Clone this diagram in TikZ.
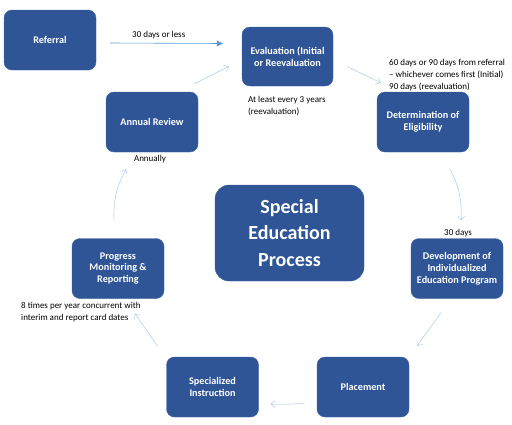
\documentclass[tikz,border=0pt]{standalone}
\usepackage{fontspec}
\setmainfont{Carlito}
\usepackage{tikz}
\usetikzlibrary{arrows.meta}
\definecolor{boxblue}{RGB}{47,85,151}
\definecolor{boxedge}{RGB}{62,98,160}
\definecolor{linkblue}{RGB}{91,155,213}
\definecolor{linkpale}{RGB}{158,194,218}

\begin{document}
\begin{tikzpicture}[x=1pt,y=-1pt,
    stepbox/.style={fill=boxblue,draw=boxedge,rounded corners=8pt,minimum width=92pt,
      minimum height=60pt,text=white,align=center,inner sep=2pt,
      font=\fontsize{10.2}{11.8}\selectfont\bfseries},
    note/.style={align=left,inner sep=0pt,font=\fontsize{9}{12}\selectfont},
    link/.style={linkpale,thin,-{Straight Barb[length=4pt,width=7pt]}}]
          \useasboundingbox (0,0) rectangle (512,424);
          \node[stepbox] (ref) at (50,40) {Referral};
          \node[stepbox,minimum width=91pt,minimum height=59pt] (eval) at (287.5,56.5)
            {Evaluation (Initial\\or Reevaluation};
          \node[stepbox] (det) at (423,122) {Determination of\\Eligibility};
          \node[stepbox] (ann) at (152,122) {Annual Review};
          \node[stepbox] (prog) at (118,268.5) {Progress\\Monitoring \&\\Reporting};
          \node[stepbox,minimum width=149pt,minimum height=96pt,rounded corners=14pt,
            font=\fontsize{20}{26.5}\selectfont\bfseries] (sep) at (289.5,233)
            {Special\\Education\\Process};
          \node[stepbox] (iep) at (457,268.5) {Development of\\Individualized\\Education Program};
          \node[stepbox] (place) at (363,387) {Placement};
          \node[stepbox] (instr) at (212.5,387) {Specialized\\Instruction};
          \node[note,anchor=base west] (t1) at (132,37) {30 days or less};
          \node[note,anchor=west] (t2) at (248,105.5) {At least every 3 years\\(reevaluation)};
          \node[note,anchor=west] (t3) at (389,75)
            {60 days or 90 days from referral\\-- whichever comes first (Initial)\\90 days (reevaluation)};
          \node[note] (t4) at (150,159) {Annually};
          \node[note] (t5) at (458,233) {30 days};
          \node[note,anchor=west] (t6) at (21,312)
            {8 times per year concurrent with\\interim and report card dates};
          \draw[linkblue,semithick,-{Triangle[length=6pt,width=6pt]}]
            ([xshift=14pt,yshift=-3pt]ref.east) -- ([xshift=-19pt,yshift=13pt]eval.west);
          \draw[link] ([xshift=-4pt,yshift=8pt]ann.north east) -- ([xshift=-13pt,yshift=-10pt]eval.west);
          \draw[link] ([xshift=14pt,yshift=-10pt]eval.east) -- ([xshift=4pt,yshift=9pt]det.north west);
          \draw[link] ([xshift=27pt,yshift=-17pt]det.south) to[bend left=15] ([xshift=4pt,yshift=18pt]iep.north);
          \draw[link] ([xshift=-16pt,yshift=-14pt]iep.south) -- ([xshift=8pt,yshift=11pt]place.north east);
          \draw[link] ([xshift=-12pt,yshift=-16pt]place.west) to[bend left=4] ([xshift=12pt,yshift=-17pt]instr.east);
          \draw[link] ([xshift=-9pt,yshift=11pt]instr.north west) -- ([xshift=17pt,yshift=-15pt]prog.south);
          \draw[link] ([xshift=-4pt,yshift=18pt]prog.north) to[bend left=15] ([xshift=-26pt,yshift=-17pt]ann.south);
        \end{tikzpicture}
\end{document}
